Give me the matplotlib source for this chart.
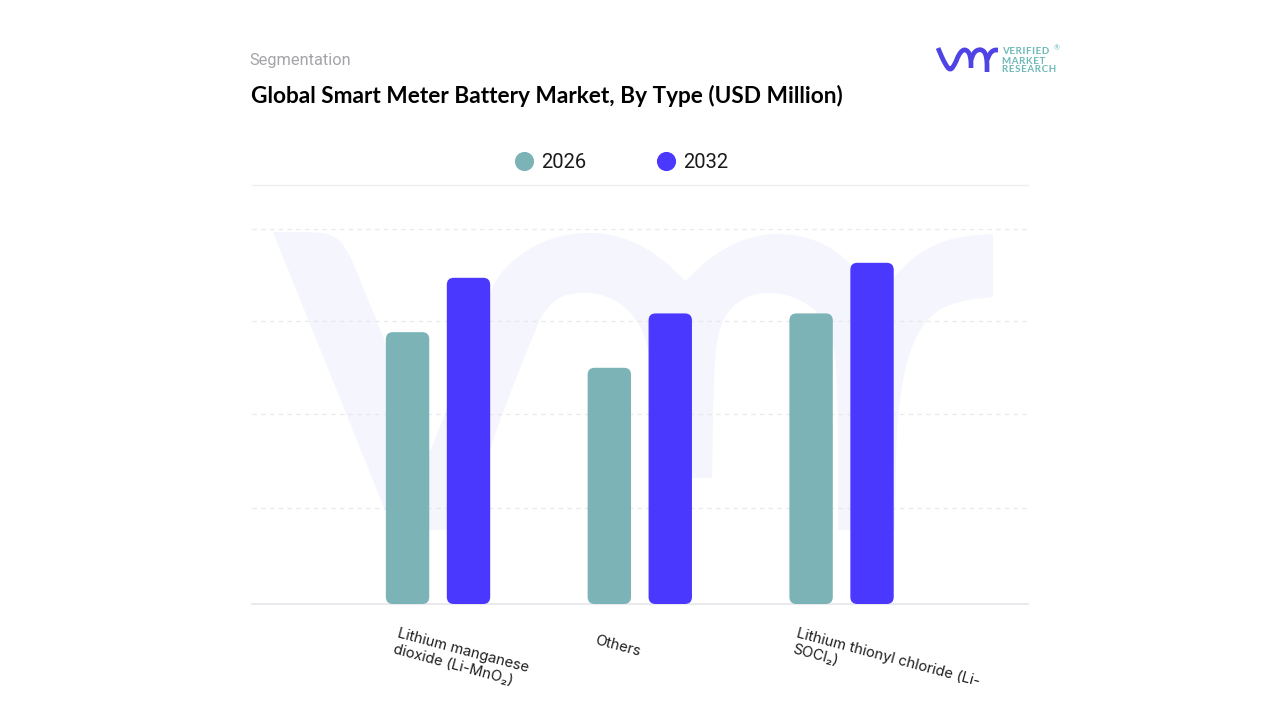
#!/usr/bin/env python3
"""Global Smart Meter Battery Market, By Type - grouped bars with rounded corners."""

import numpy as np
import matplotlib
matplotlib.use("Agg")
import matplotlib.pyplot as plt
from matplotlib.lines import Line2D
from matplotlib.patches import FancyBboxPatch, PathPatch
from matplotlib.path import Path
from matplotlib.transforms import Affine2D, ScaledTranslation

# ========================
# Data
# ========================
CATEGORIES = ["Lithium manganese\ndioxide (Li-MnO\u2082)", "Others",
              "Lithium thionyl chloride (Li-\nSOCl\u2082)"]
VALUES_2026 = [290, 252, 310]
VALUES_2032 = [348, 310, 364]
SERIES_NAMES = ["2026", "2032"]
GRID_VALUES = [102, 203, 302, 400]
TITLE = "Global Smart Meter Battery Market, By Type (USD Million)"
SUBTITLE = "Segmentation"

# ========================
# Styles
# ========================
TEAL = "#7BB3B7"
BLUE = "#4B38FF"
LOGO_BLUE = "#4F43E6"
LOGO_TEAL = "#6DB8B8"
PALE = "#F4F5FD"
W, H = 1280, 720

# pixel shifts of the rotated tick labels (right, up)
LABEL_SHIFTS = [(-38, 3), (-43, -4), (-43, 3)]

# pixel coordinates of the picture, y going down (for the logo and watermark)
PX = Affine2D().scale(1, -1).translate(0, H)

# the faint vmr shape behind the bars
WATERMARK = [
    (273, 232), (322, 232), (338, 238), (350, 255), (362, 285), (430, 452), (446, 412),
    (470, 345), (493, 283), (510, 263), (530, 248), (555, 237), (585, 232), (615, 235),
    (645, 247), (668, 264), (685, 281), (705, 262), (730, 245), (755, 236), (780, 233),
    (810, 238), (835, 250), (855, 268), (868, 285), (880, 295), (893, 277), (915, 256),
    (940, 242), (965, 236), (993, 234), (993, 297), (965, 300), (940, 308), (922, 325),
    (908, 355), (900, 395), (896, 440), (895, 530), (838, 530), (838, 380), (832, 335),
    (815, 308), (790, 295), (765, 292), (742, 298), (724, 315), (714, 350), (712, 478),
    (655, 478), (653, 380), (646, 335), (628, 308), (605, 295), (583, 292), (560, 296),
    (545, 310), (535, 330), (493, 437), (465, 530), (393, 530), (377, 490),
]
# corners of the shape that stay sharp when the outline is smoothed
WATERMARK_CORNERS = {(273, 232), (430, 452), (685, 281), (993, 234), (993, 297), (895, 530),
                     (838, 530), (712, 478), (655, 478), (465, 530), (393, 530), (880, 295)}
LOGO_V = [(938, 48), (944, 62), (950, 71), (955, 64), (959, 54), (964, 49), (969, 52),
          (971, 60), (971, 68)]
LOGO_M = [(971, 60), (974, 52), (980, 49), (985, 52), (987, 60), (987, 72)]
LOGO_R = [(987, 60), (990, 53), (994, 50), (998, 50)]


def smooth_outline(points, corners, rounds=3):
    """Chaikin corner cutting on a closed outline, keeping the listed corners."""
    pts = [(float(x), float(y)) for x, y in points]
    keep = {(float(x), float(y)) for x, y in corners}
    for _ in range(rounds):
        out = []
        n = len(pts)
        for i in range(n):
            p, prev, nxt = pts[i], pts[i - 1], pts[(i + 1) % n]
            if p in keep:
                out.append(p)
                continue
            out.append((0.75 * p[0] + 0.25 * prev[0], 0.75 * p[1] + 0.25 * prev[1]))
            out.append((0.75 * p[0] + 0.25 * nxt[0], 0.75 * p[1] + 0.25 * nxt[1]))
        pts = out
    return pts


def smooth_stroke(points, rounds=2):
    """Same cutting for an open stroke, the two ends stay where they are."""
    pts = np.array(points, dtype=float)
    for _ in range(rounds):
        mid = np.vstack([[0.75 * a + 0.25 * b, 0.25 * a + 0.75 * b]
                         for a, b in zip(pts[:-1], pts[1:])])
        pts = np.vstack([pts[0], mid, pts[-1]])
    return pts


def draw_rounded_bars(ax, centers, values, width, color, radius_px=7):
    """Bars with rounded corners, radius given in pixels on both axes."""
    ax_box = ax.get_window_extent()
    x0, x1 = ax.get_xlim()
    y0, y1 = ax.get_ylim()
    x_per_px = (x1 - x0) / ax_box.width
    y_per_px = (y1 - y0) / ax_box.height
    for c, v in zip(centers, values):
        ax.add_patch(FancyBboxPatch(
            (c - width / 2, 0), width, v,
            boxstyle=f"round,pad=0,rounding_size={radius_px * x_per_px}",
            mutation_aspect=y_per_px / x_per_px,
            facecolor=color, edgecolor="none", zorder=3))


def spaced(word):
    return "\u200a".join(word)


def main():
    fig = plt.figure(figsize=(W / 100, H / 100), dpi=100, facecolor="white")

    # watermark and logo sit in picture pixels
    outline = smooth_outline(WATERMARK, WATERMARK_CORNERS)
    fig.add_artist(PathPatch(Path(outline + [outline[0]], closed=True), transform=PX,
                             facecolor=PALE, edgecolor="none", zorder=-1))
    for stroke in (LOGO_V, LOGO_M, LOGO_R):
        pts = smooth_stroke(stroke)
        fig.add_artist(Line2D(pts[:, 0], pts[:, 1], transform=PX, color=LOGO_BLUE, lw=3.4,
                              solid_capstyle="butt", solid_joinstyle="round"))
    for word, y in zip(["VERIFIED", "MARKET", "RESEARCH"], [52, 61, 70]):
        fig.text(1002 / W, 1 - y / H, spaced(word), color=LOGO_TEAL, fontsize=7.0,
                 family="Lato", weight="bold", ha="left", va="center")
    fig.text(1057 / W, 1 - 48 / H, "\u00ae", color=LOGO_TEAL, fontsize=5,
             family="Lato", ha="center", va="center")

    fig.text(249.5 / W, 1 - 60 / H, SUBTITLE, color="#A4A4A8", fontsize=11.8,
             family="Roboto", ha="left", va="center")
    fig.text(251 / W, 1 - 95.5 / H, TITLE, color="#000000", fontsize=16.25,
             family="Lato", weight="bold", ha="left", va="center")

    # ========================
    # Chart
    # ========================
    ax = fig.add_axes([252 / W, 1 - 604 / H, 776 / W, 419 / H])
    ax.patch.set_alpha(0)
    x = np.arange(len(CATEGORIES))
    ax.set_xlim(-0.922, 2.924)
    ax.set_ylim(0, 447)

    draw_rounded_bars(ax, x - 0.151, VALUES_2026, 0.215, TEAL)
    draw_rounded_bars(ax, x + 0.151, VALUES_2032, 0.215, BLUE)

    ax.set_yticks(GRID_VALUES)
    ax.set_yticklabels([])
    ax.grid(axis="y", color="#E9E9EB", lw=0.9, linestyle=(0, (3.5, 3.5)), zorder=0)
    ax.tick_params(length=0)
    for side in ("left", "right"):
        ax.spines[side].set_visible(False)
    ax.spines["top"].set_color("#EFEFF1")
    ax.spines["top"].set_linewidth(1)
    ax.spines["bottom"].set_color("#E8EAEE")
    ax.spines["bottom"].set_linewidth(1.5)

    ax.set_xticks(x)
    ax.set_xticklabels(CATEGORIES, rotation=-15, ha="left", va="top", rotation_mode="anchor",
                       fontsize=10.6, family="Inter", color="#1E1E1E", linespacing=1.23)
    ax.tick_params(axis="x", pad=18)
    for label, (dx, dy) in zip(ax.get_xticklabels(), LABEL_SHIFTS):
        offset = ScaledTranslation(dx / 100, dy / 100, fig.dpi_scale_trans)
        label.set_transform(label.get_transform() + offset)

    handles = [Line2D([], [], linestyle="none", marker="o", markersize=13.8,
                      markerfacecolor=c, markeredgecolor="none") for c in (TEAL, BLUE)]
    fig.legend(handles, SERIES_NAMES, loc="center", bbox_to_anchor=(616 / W, 1 - 162.5 / H),
               ncol=2, frameon=False, handletextpad=-0.15, columnspacing=3.0,
               prop={"family": "Roboto", "size": 14.5}, labelcolor="#1A1A1A")

    fig.savefig("out.png", dpi=100)


if __name__ == "__main__":
    main()
